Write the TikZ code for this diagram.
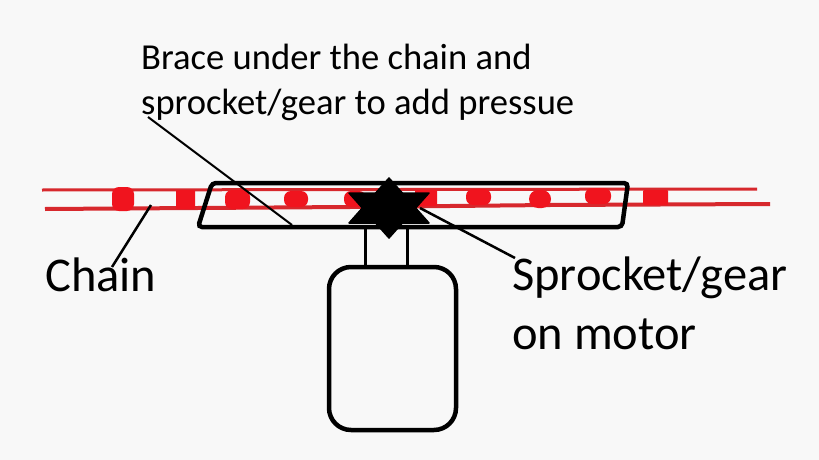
\documentclass[tikz,border=0pt]{standalone}
\usepackage{fontspec}
\setmainfont{Carlito}
\usepackage{tikz}
\usetikzlibrary{calc}
\definecolor{paper}{RGB}{248,248,248}
\definecolor{chainred}{RGB}{240,20,30}
\definecolor{chainline}{RGB}{215,40,45}
\tikzset{
    link/.style={fill=chainred, draw=none, rounded corners=7pt},
    outline/.style={draw=black, line width=4.5pt, rounded corners=4pt},
    leader/.style={draw=black, line width=2pt},
    biglabel/.style={anchor=base west, inner sep=0pt, font=\fontsize{48.5}{58}\selectfont},
    smalllabel/.style={anchor=base west, inner sep=0pt, font=\fontsize{36.6}{44}\selectfont}
}
\begin{document}
\begin{tikzpicture}[x=1pt, y=-1pt]
        \useasboundingbox [fill=paper] (0,0) rectangle (819,460);
        % chain
        \draw [chainline, line width=3pt] (42,190) -- (757,189);
        \draw [chainline, line width=4pt] (45,209) -- (350,207) -- (550,205) -- (770,204);
        \fill [link] (112,187) rectangle (134,211);
        \fill [link, rounded corners=1pt] (176,190) rectangle (195,209);
        \fill [link] (225,190) rectangle (250,209);
        \fill [link] (284,191) rectangle (308,207);
        \fill [link] (344,191) rectangle (366,207);
        \fill [link, rounded corners=1pt] (415,190) rectangle (437,206);
        \fill [link] (466,189) rectangle (491,205);
        \fill [link, rounded corners=9pt] (529,190) rectangle (551,208);
        \fill [link] (585,188) rectangle (611,204);
        \fill [link, rounded corners=1pt] (643,190) rectangle (668,205);
        % brace
        \draw [outline] (212,183) -- (628,183) -- (622,227) -- (198,227) -- cycle;
        % motor and shaft
        \draw [line width=3pt] (365,225) -- (365,266);
        \draw [line width=3pt] (407,225) -- (407,266);
        \draw [outline, rounded corners=22pt] (329,267) rectangle (456,430);
        % sprocket
        \filldraw [black, line width=1.5pt, line join=round] (389,178) -- (429,223) -- (349,223) -- cycle;
        \filldraw [black, line width=1.5pt, line join=round] (389,238) -- (429,193) -- (349,193) -- cycle;
        % labels
        \node [smalllabel] (brace) at (141,70) {Brace under the chain and};
        \node [smalllabel] (brace2) at (141,114) {sprocket/gear to add pressue};
        \node [biglabel] (chain) at (45,291) {Chain};
        \node [biglabel] (sprocket) at (512,290) {Sprocket/gear};
        \node [biglabel] (motor) at (512,349) {on motor};
        % leaders
        \coordinate (bracefoot) at (292,225);
        \coordinate (chainfoot) at (151,205);
        \coordinate (gearfoot) at (420,208);
        \coordinate (bracehead) at (148,117);
        \coordinate (chainhead) at (112,267);
        \coordinate (gearhead) at (515,258);
        \draw [leader] (bracehead) -- (bracefoot);
        \draw [leader, line width=2.5pt] (chainfoot) -- (chainhead);
        \draw [leader, line width=2.5pt] (gearfoot) -- (gearhead);
    \end{tikzpicture}
\end{document}
